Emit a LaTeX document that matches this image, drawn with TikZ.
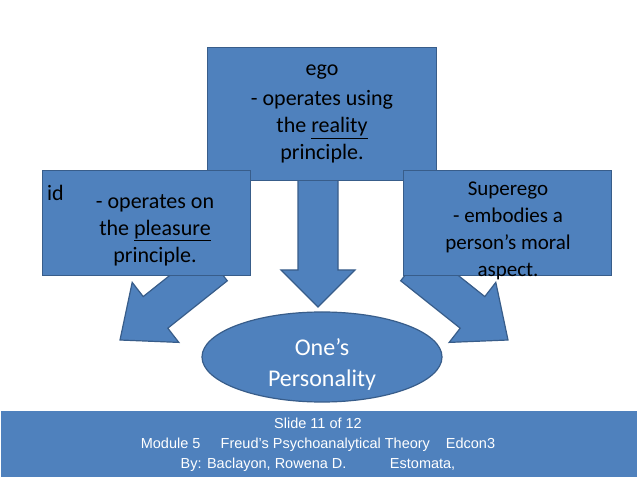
\documentclass[tikz,border=0pt]{standalone}
\usepackage{fontspec}
\setmainfont{Carlito}
\newfontfamily\arialf{Liberation Sans}
\definecolor{bluef}{HTML}{4F81BD}
\definecolor{blueb}{HTML}{385D8A}
\begin{document}
\begin{tikzpicture}[x=1pt,y=-1pt,
  shp/.style={fill=bluef,draw=blueb,line width=1.2pt},
  txt/.style={font=\fontsize{22}{27}\selectfont,align=center,inner sep=0pt}]
\useasboundingbox (0,0) rectangle (638,478);
\fill[white] (0,0) rectangle (638,478);
% arrows
\draw[shp] (227.3,280.8) -- (167.8,328.2) -- (178.8,342.4) -- (120,340) -- (132.2,282.4) -- (143.2,296.6) -- (202.7,249.2) -- cycle;
\draw[shp] (400.7,280.8) -- (460.2,328.2) -- (449.2,342.4) -- (508,340) -- (495.8,282.4) -- (484.8,296.6) -- (425.3,249.2) -- cycle;
\draw[shp] (298,170) -- (298,270) -- (281,270) -- (318,307) -- (355,270) -- (338,270) -- (338,170) -- cycle;
% boxes
\node[shp,minimum width=229pt,minimum height=133pt,anchor=north west,inner sep=0pt] (ego) at (207,47) {};
\node[txt] (egot) at (322,72) {ego};
\node[txt] (egol) at (322,127) {- operates using\\the \underline{reality}\\principle.};
\node[shp,minimum width=208pt,minimum height=105pt,anchor=north west,inner sep=0pt] (id) at (42,170) {};
\node[txt,anchor=west] (idt) at (47,193) {id};
\node[txt] (idl) at (155,230) {- operates on\\the \underline{pleasure}\\principle.};
\node[shp,minimum width=208pt,minimum height=105pt,anchor=north west,inner sep=0pt] (sup) at (403,170) {};
\node[txt,font=\fontsize{21}{27}\selectfont] (supl) at (508,231) {Superego\\- embodies a\\person’s moral\\aspect.};
% ellipse
\draw[shp] (322,357) ellipse (120 and 45);
\node[txt,text=white,font=\fontsize{24}{31}\selectfont] (pers) at (322,364) {One’s\\Personality};
% footer
\fill[bluef] (0,410) rectangle (638,478);
\draw[white,line width=1pt] (0.5,410.5) rectangle (637.5,477.5);
\node[text=white,font=\arialf\fontsize{14.5}{20}\selectfont,align=center,inner sep=0pt] (foot) at (318,445)
 {Slide 11 of 12\\Module 5\hspace{1.4em}Freud’s Psychoanalytical Theory\hspace{1.1em}Edcon3\\By: Baclayon, Rowena D.\hspace{3em}Estomata,};
\end{tikzpicture}
\end{document}
